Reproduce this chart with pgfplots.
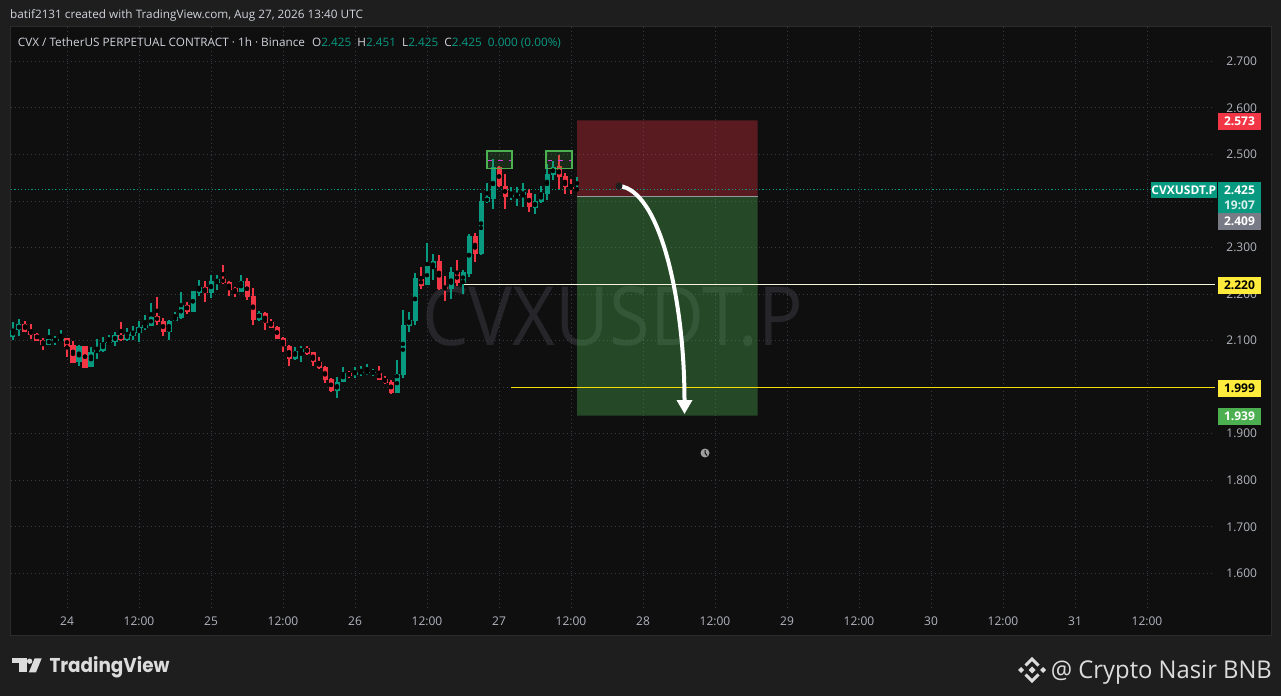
\documentclass[border=0pt]{standalone}
\usepackage{fontspec}
\setmainfont{Open Sans}
\newfontfamily\logofont{Poppins}
\usepackage{graphicx}
\usepackage{pgfplots}
\pgfplotsset{compat=1.18}
\usepackage{pgfplotstable}
\usetikzlibrary{arrows.meta}

\definecolor{bgout}{HTML}{1E1E1E}
\definecolor{bgin}{HTML}{0F0F0F}
\definecolor{framec}{HTML}{2B2B2B}
\definecolor{gridc}{HTML}{363A45}
\definecolor{up}{HTML}{089981}
\definecolor{down}{HTML}{F23645}
\definecolor{txt}{HTML}{D1D4DC}
\definecolor{axtxt}{HTML}{B2B5BE}
\definecolor{wmark}{HTML}{26262A}
\definecolor{tpgreen}{HTML}{4CAF50}
\definecolor{lvlyellow}{HTML}{F5DC0A}
\definecolor{lvlpale}{HTML}{F6F4DA}
\definecolor{entryc}{HTML}{9598A1}
\definecolor{lblgray}{HTML}{787B86}
\definecolor{lblyellow}{HTML}{FFEB3B}
\definecolor{dashmag}{HTML}{D63BE0}
\definecolor{foot}{HTML}{DCDCDC}

% hourly candles, h = hours from Aug 24 00:00
\pgfplotstableread{
h   o     hi    lo    c
-9  2.108 2.141 2.102 2.123
-8  2.123 2.147 2.110 2.136
-3  2.090 2.125 2.090 2.104
-2  2.100 2.110 2.090 2.103
-1  2.100 2.123 2.098 2.104
2   2.055 2.091 2.046 2.089
4   2.044 2.087 2.044 2.076
5   2.075 2.104 2.061 2.080
6   2.078 2.108 2.076 2.095
7   2.095 2.113 2.093 2.098
8   2.098 2.119 2.089 2.113
10  2.102 2.128 2.100 2.115
11  2.110 2.132 2.102 2.119
12  2.117 2.143 2.098 2.130
13  2.128 2.156 2.123 2.134
14  2.132 2.181 2.132 2.151
17  2.119 2.145 2.102 2.143
18  2.143 2.162 2.143 2.151
19  2.149 2.205 2.147 2.177
21  2.162 2.207 2.162 2.207
22  2.203 2.231 2.196 2.216
24  2.203 2.242 2.192 2.227
25  2.224 2.242 2.209 2.233
29  2.205 2.242 2.205 2.229
32  2.145 2.164 2.143 2.160
38  2.061 2.087 2.059 2.078
39  2.076 2.089 2.055 2.082
45  1.992 2.022 1.977 2.012
46  2.012 2.044 2.012 2.031
48  2.027 2.044 2.020 2.033
49  2.031 2.046 2.024 2.033
50  2.031 2.050 2.027 2.033
51  2.031 2.039 2.024 2.033
55  1.988 2.059 1.988 2.029
56  2.027 2.166 2.020 2.134
57  2.132 2.162 2.119 2.145
58  2.143 2.246 2.134 2.235
60  2.220 2.309 2.220 2.261
61  2.257 2.285 2.231 2.270
64  2.210 2.259 2.190 2.248
66  2.223 2.251 2.201 2.248
67  2.244 2.330 2.236 2.324
69  2.285 2.418 2.285 2.399
70  2.397 2.438 2.395 2.408
71  2.405 2.491 2.382 2.472
74  2.410 2.429 2.403 2.412
75  2.413 2.429 2.390 2.414
76  2.412 2.438 2.386 2.420
78  2.384 2.416 2.371 2.399
79  2.397 2.433 2.395 2.418
80  2.416 2.479 2.403 2.457
81  2.455 2.485 2.446 2.474
85  2.425 2.451 2.425 2.425
}\upcandles

\pgfplotstableread{
h   o     hi    lo    c
-7  2.136 2.143 2.118 2.119
-6  2.121 2.136 2.104 2.113
-5  2.115 2.117 2.100 2.100
-4  2.102 2.106 2.079 2.090
0   2.106 2.106 2.065 2.087
1   2.091 2.100 2.052 2.052
3   2.089 2.089 2.042 2.042
9   2.113 2.141 2.100 2.102
15  2.153 2.194 2.134 2.141
16  2.143 2.149 2.110 2.119
20  2.177 2.184 2.158 2.162
23  2.216 2.229 2.184 2.203
26  2.233 2.263 2.222 2.224
27  2.227 2.229 2.196 2.209
28  2.212 2.216 2.194 2.205
30  2.229 2.235 2.188 2.194
31  2.196 2.212 2.134 2.145
33  2.160 2.162 2.123 2.138
34  2.141 2.147 2.128 2.128
35  2.130 2.132 2.104 2.104
36  2.106 2.108 2.076 2.089
37  2.089 2.091 2.046 2.061
40  2.085 2.089 2.070 2.072
41  2.076 2.076 2.046 2.055
42  2.055 2.065 2.039 2.042
43  2.044 2.046 2.009 2.016
44  2.018 2.020 1.990 1.992
47  2.031 2.035 2.020 2.024
52  2.031 2.046 2.016 2.016
53  2.018 2.024 2.007 2.009
54  2.012 2.016 1.986 1.988
59  2.233 2.259 2.210 2.218
62  2.270 2.283 2.208 2.210
63  2.215 2.238 2.186 2.213
65  2.248 2.274 2.218 2.223
68  2.324 2.332 2.268 2.287
72  2.472 2.476 2.429 2.433
73  2.433 2.459 2.382 2.408
77  2.418 2.425 2.377 2.386
82  2.476 2.498 2.425 2.451
83  2.453 2.459 2.414 2.429
84  2.431 2.448 2.416 2.425
}\downcandles

\pgfplotsset{
  candle wick/.style={only marks, mark=none, draw=none, forget plot,
    error bars/.cd, y dir=both, y explicit, error mark=none,
    error bar style={draw=#1, line width=1.1pt}},
  candle body/.style={only marks, mark=none, draw=none, forget plot,
    error bars/.cd, y dir=both, y explicit, error mark=none,
    error bar style={draw=#1, line width=5pt, line cap=butt}},
}

\newcommand{\pricebox}[4]{% y, fill, text colour, text
  \fill[#2] (1218.3,{#1-8.3}) rectangle (1260.7,{#1+8.3});
  \node[#3, inner sep=0pt, font=\fontsize{12}{14}\selectfont\bfseries] at (1239.5,#1) {#4};
}

\begin{document}
\begin{tikzpicture}
\begin{scope}[x=1pt,y=-1pt]
  \useasboundingbox (0,0) rectangle (1281,696);
  \fill[bgout] (0,0) rectangle (1281,696);
  \fill[bgin] (10.5,26.5) rectangle (1271,635.5);
  \draw[framec, line width=1pt] (10.5,26.5) rectangle (1271,635.5);
  \node[wmark, inner sep=0pt] at (612.5,316)
    {\resizebox{381pt}{\height}{\fontsize{81.7}{90}\selectfont CVXUSDT.P}};
\end{scope}

\begin{axis}[
  at={(11pt,-608pt)}, anchor=south west,
  width=1204pt, height=581pt, scale only axis,
  xmin=-9.3333, xmax=191.3333, ymin=1.5256, ymax=2.7737,
  axis line style={draw=none},
  xtick={0,12,...,180},
  ytick={1.6,1.7,1.8,1.9,2.0,2.1,2.2,2.3,2.4,2.5,2.6,2.7},
  xticklabels={}, yticklabels={},
  major tick length=0pt,
  grid=major,
  major grid style={gridc, dash pattern=on 1pt off 3pt, line width=0.8pt},
  clip=false,
]
% short position: stop zone and target zone
\addplot[draw=none, fill=down, fill opacity=0.33, forget plot]
  coordinates {(85,2.409) (115.12,2.409) (115.12,2.573) (85,2.573) (85,2.409)};
\addplot[draw=none, fill=tpgreen, fill opacity=0.36, forget plot]
  coordinates {(85,1.939) (115.12,1.939) (115.12,2.409) (85,2.409) (85,1.939)};
\addplot[entryc, line width=1pt, forget plot] coordinates {(85,2.409) (115.12,2.409)};

% levels
\addplot[lvlpale, line width=1pt, forget plot] coordinates {(66,2.220) (191.333,2.220)};
\addplot[lvlyellow, line width=1.4pt, forget plot] coordinates {(74,1.999) (191.333,1.999)};

% candles
\addplot[candle wick=up] table[x=h, y expr={(\thisrow{hi}+\thisrow{lo})/2},
  y error expr={(\thisrow{hi}-\thisrow{lo})/2}] {\upcandles};
\addplot[candle body=up] table[x=h, y expr={(\thisrow{o}+\thisrow{c})/2},
  y error expr={max(abs(\thisrow{c}-\thisrow{o})/2,0.0011)}] {\upcandles};
\addplot[candle wick=down] table[x=h, y expr={(\thisrow{hi}+\thisrow{lo})/2},
  y error expr={(\thisrow{hi}-\thisrow{lo})/2}] {\downcandles};
\addplot[candle body=down] table[x=h, y expr={(\thisrow{o}+\thisrow{c})/2},
  y error expr={max(abs(\thisrow{c}-\thisrow{o})/2,0.0011)}] {\downcandles};

% current price
\addplot[up, dash pattern=on 1.2pt off 2.2pt, line width=1.2pt, forget plot]
  coordinates {(-9.333,2.425) (180.67,2.425)};

% double top marks
\addplot[draw=tpgreen, line width=1.6pt, fill=tpgreen, fill opacity=0.18, forget plot]
  coordinates {(69.95,2.4697) (74.12,2.4697) (74.12,2.5073) (69.95,2.5073) (69.95,2.4697)};
\addplot[draw=tpgreen, line width=1.6pt, fill=tpgreen, fill opacity=0.18, forget plot]
  coordinates {(79.83,2.4697) (84.17,2.4697) (84.17,2.5073) (79.83,2.5073) (79.83,2.4697)};
\addplot[dashmag, dash pattern=on 4.4pt off 6.2pt, line width=1pt, forget plot]
  coordinates {(70.12,2.4873) (74,2.4873)};
\addplot[dashmag, dash pattern=on 4.4pt off 6.2pt, line width=1pt, forget plot]
  coordinates {(80.1,2.4873) (84,2.4873)};
\end{axis}

\begin{scope}[x=1pt,y=-1pt]
  % price scale (2.400 and 2.000 sit under the price labels)
  \foreach \p/\l in {2.7/2.700,2.6/2.600,2.5/2.500,2.3/2.300,
                     2.1/2.100,1.9/1.900,1.8/1.800,1.7/1.700,1.6/1.600}
    \node[axtxt, font=\fontsize{12}{14}\selectfont] at (1241.7,{61.3+(2.7-\p)*465.5}) {\l};
  \begin{scope}
    \clip (1215,293.3) rectangle (1268,305);
    \node[axtxt, inner sep=0pt, font=\fontsize{12}{14}\selectfont] at (1241.7,294.05) {2.200};
  \end{scope}
  % time scale
  \foreach \k/\l in {0/24,1/12:00,2/25,3/12:00,4/26,5/12:00,6/27,7/12:00,
                     8/28,9/12:00,10/29,11/12:00,12/30,13/12:00,14/31,15/12:00}
    \node[axtxt, font=\fontsize{12}{14}\selectfont] at ({67+72*\k},621.5) {\l};

  % price labels
  \pricebox{121.7}{down}{white}{2.573}
  \fill[up] (1218.3,181.7) rectangle (1260.7,213.3);
  \node[white, inner sep=0pt, font=\fontsize{12}{14}\selectfont\bfseries] at (1239.5,190) {2.425};
  \node[white!85!up, inner sep=0pt, font=\fontsize{12}{14}\selectfont\bfseries] at (1239.5,205.3) {19:07};
  \fill[up] (1151,181.7) rectangle (1216.7,198.3);
  \node[white, inner sep=0pt, font=\fontsize{12}{14}\selectfont\bfseries] at (1183.8,190) {CVXUSDT.P};
  \pricebox{221.3}{lblgray}{white}{2.409}
  \pricebox{285.3}{lblyellow}{black}{2.220}
  \pricebox{388.3}{lblyellow}{black}{1.999}
  \pricebox{416.7}{tpgreen}{white}{1.939}

  % arrow and clock
  \draw[white, line width=4pt, -{Triangle[width=15pt,length=14pt]}]
    (619,186) .. controls (660,190) and (684.5,300) .. (684.5,414);
  \fill[bgout] (619,186) circle (3.5);
  \fill[gray!75] (705,453) circle (4.5);
  \draw[bgin, line width=1pt] (705,450) -- (705,453) -- (707,455.5);

  % header
  \node[txt, anchor=base west, inner sep=0pt] at (10,19)
    {\resizebox{352.7pt}{\height}{\fontsize{11.6}{13}\selectfont batif2131 created with TradingView.com, Aug 27, 2026 13:40 UTC}};
  \node[txt, anchor=base west, inner sep=0pt] at (17.7,46.3)
    {\resizebox{543pt}{\height}{\fontsize{11.6}{13}\selectfont CVX / TetherUS PERPETUAL CONTRACT · 1h · Binance\hspace{7pt}O\textcolor{up}{2.425}\hspace{6pt}H\textcolor{up}{2.451}\hspace{6pt}L\textcolor{up}{2.425}\hspace{6pt}C\textcolor{up}{2.425}\hspace{6pt}\textcolor{up}{0.000 (0.00\%)}}};

  % footer: TradingView logo
  \fill[foot] (12.3,658.3) rectangle (26.7,663.3);
  \fill[foot] (19.3,658.3) rectangle (26.7,672.3);
  \fill[foot] (29.6,661.2) circle (2.7);
  \fill[foot] (34.6,658.3) -- (41.7,658.3) -- (36,672.3) -- (28.9,672.3) -- cycle;
  \node[foot, anchor=base west, inner sep=0pt] at (49.3,672.3)
    {\resizebox{120pt}{\height}{\logofont\fontsize{20}{22}\selectfont\bfseries TradingView}};

  % footer: Binance mark and signature
  \fill[foot] (1032,666.5) -- (1035.5,670) -- (1032,673.5) -- (1028.5,670) -- cycle;
  \fill[foot] (1021,667) -- (1024,670) -- (1021,673) -- (1018,670) -- cycle;
  \fill[foot] (1043,667) -- (1046,670) -- (1043,673) -- (1040,670) -- cycle;
  \draw[foot, line width=3pt] (1025.5,665.5) -- (1032,659) -- (1038.5,665.5);
  \draw[foot, line width=3pt] (1025.5,674.5) -- (1032,681) -- (1038.5,674.5);
  \node[foot, anchor=base west, inner sep=0pt] at (1050.7,678)
    {\resizebox{221pt}{\height}{\fontsize{24.5}{28}\selectfont @ Crypto Nasir BNB}};
\end{scope}
\end{tikzpicture}
\end{document}
